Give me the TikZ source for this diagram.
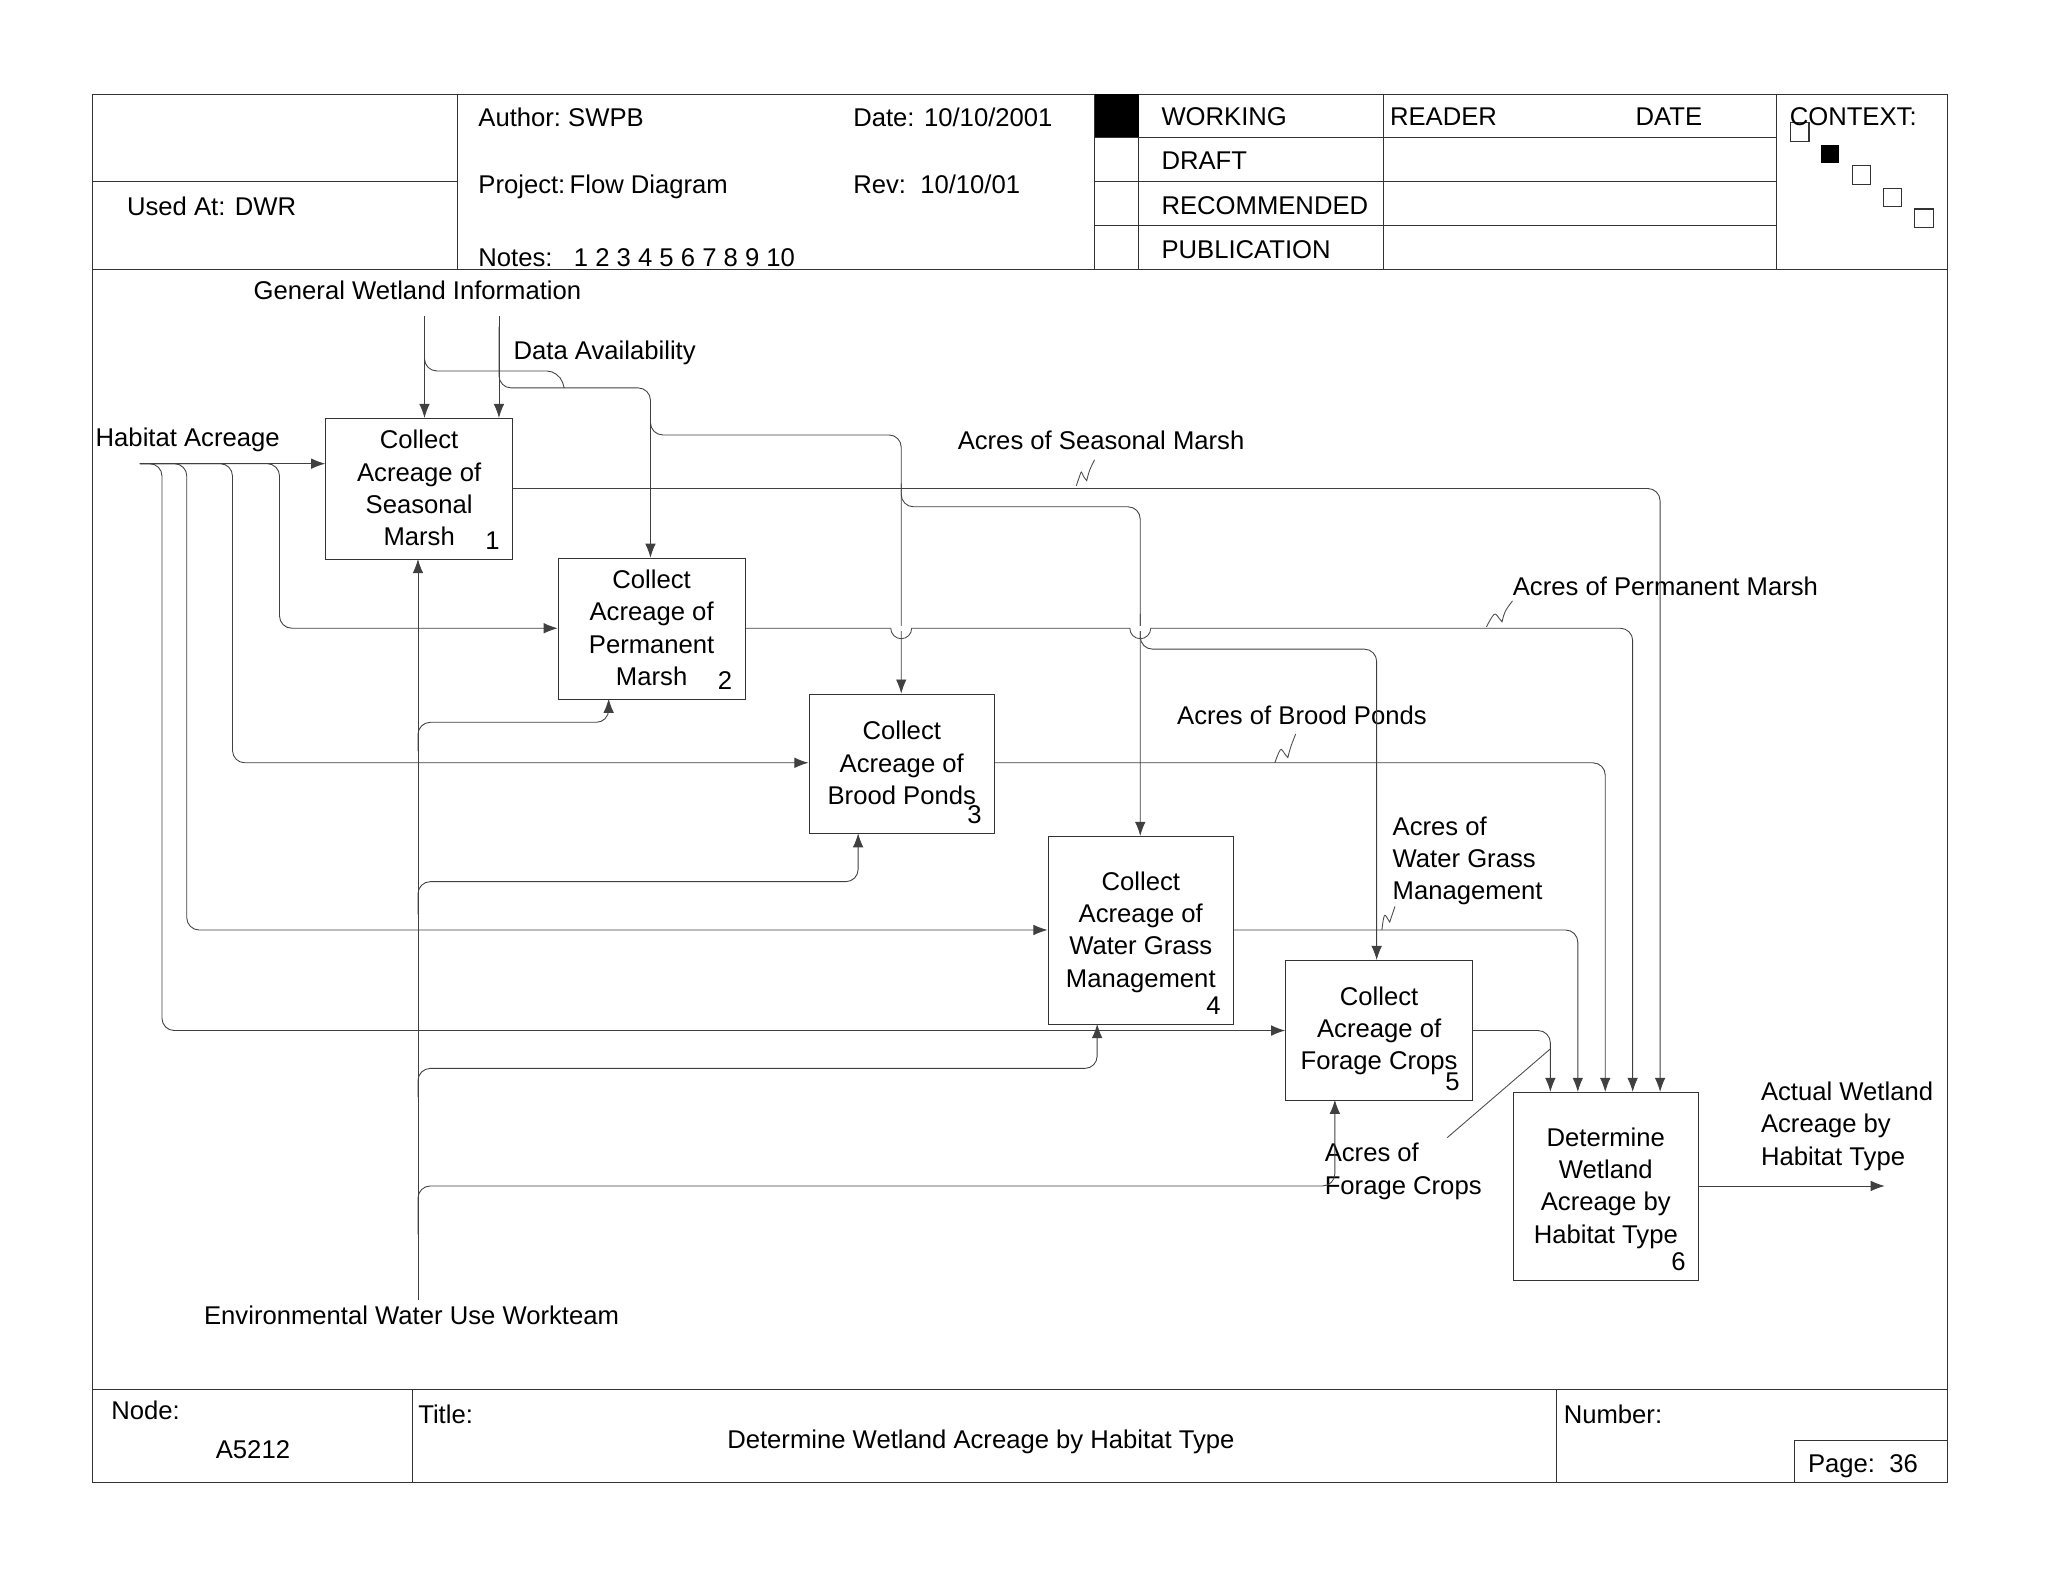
\documentclass[tikz,border=0pt]{standalone}
\usepackage{fontspec}
\setmainfont{Liberation Sans}
\usetikzlibrary{arrows.meta,calc}
\begin{document}
\begin{tikzpicture}[x=0.026122cm,y=-0.026122cm,
  every node/.style={font=\fontsize{14.6}{18.4}\selectfont,inner sep=0pt},
  frm/.style={draw=black!80,line width=0.6pt},
  box/.style={draw=black!80,line width=0.6pt,inner sep=0pt},
  cn/.style={draw=black!75,line width=0.5pt,rounded corners=7},
  ar/.style={cn,-{Latex[length=8pt,width=6pt]}},
  lt/.style={anchor=base west},
  sq/.style={draw=black!70,line width=0.5pt}]
\useasboundingbox (0,0) rectangle (1568,1211);
% frame
\draw[frm] (71,72) rectangle (1491,1135);
\draw[frm] (71,206) -- (1491,206);
\draw[frm] (71,1064) -- (1491,1064);
\draw[frm] (350,72) -- (350,206);
\draw[frm] (71,139) -- (350,139);
\draw[frm] (838,72) -- (838,206);
\draw[frm] (872,72) -- (872,206);
\draw[frm] (1059,72) -- (1059,206);
\draw[frm] (1360,72) -- (1360,206);
\foreach \y in {105,139,173} \draw[frm] (838,\y) -- (1360,\y);
\fill (838,72) rectangle (872,105);
\draw[frm] (1371,94) rectangle +(14,14);
\fill (1394,111) rectangle +(14,14);
\draw[frm] (1418,127) rectangle +(14,14);
\draw[frm] (1442,144) rectangle +(14,14);
\draw[frm] (1466,160) rectangle +(14,14);
\node[lt] (au) at (366,97) {Author:\ SWPB};
\node[lt] (da) at (653,97) {Date: 10/10/2001};
\node[lt] (pr) at (366,148) {Project:\,Flow Diagram};
\node[lt] (rv) at (653,148) {Rev:\ \ 10/10/01};
\node[lt] (no) at (366,204) {Notes:\ \ \ 1 2 3 4 5 6 7 8 9 10};
\node[lt] (ua) at (97,165) {Used At: DWR};
\node[lt] (w1) at (889,96) {WORKING};
\node[lt] (w2) at (889,130) {DRAFT};
\node[lt] (w3) at (889,164) {RECOMMENDED};
\node[lt] (w4) at (889,198) {PUBLICATION};
\node[lt] (rd) at (1064,96) {READER};
\node[lt] (dt) at (1252,96) {DATE};
\node[lt] (cx) at (1370,96) {CONTEXT:};
% footer
\draw[frm] (316,1064) -- (316,1135);
\draw[frm] (1192,1064) -- (1192,1135);
\draw[frm] (1374,1135) -- (1374,1103) -- (1491,1103);
\node[lt] (nd) at (85,1087) {Node:};
\node[lt] (nv) at (165,1117) {A5212};
\node[lt] (ti) at (320,1090) {Title:};
\node[anchor=base] (tv) at (751,1109) {Determine Wetland Acreage by Habitat Type};
\node[lt] (nu) at (1197,1090) {Number:};
\node[lt] (pg) at (1384,1127) {Page:\ \ 36};
% boxes
\newcommand\bx[8]{%
 \node[box,minimum width=#4*0.026122cm,minimum height=#5*0.026122cm,anchor=north west] (#1) at (#2,#3) {};
 \node[align=center,anchor=north] at ($(#1.north)+(0,#7)$) {#6};
 \node[anchor=base east] at ($(#1.south east)+(-10,-8)$) {#8};}
\bx{b1}{249}{320}{143}{108}{Collect\\Acreage of\\Seasonal\\Marsh}{9}{1}
\bx{b2}{427}{427}{143}{108}{Collect\\Acreage of\\Permanent\\Marsh}{9}{2}
\bx{b3}{619}{531}{142}{107}{Collect\\Acreage of\\Brood Ponds}{21}{3}
\bx{b4}{802}{640}{142}{144}{Collect\\Acreage of\\Water Grass\\Management}{27}{4}
\bx{b5}{984}{735}{143}{107}{Collect\\Acreage of\\Forage Crops}{20}{5}
\bx{b6}{1158}{836}{142}{144}{Determine\\Wetland\\Acreage by\\Habitat Type}{27}{6}
% labels
\node[lt] (l1) at (194,229) {General Wetland Information};
\node[lt] (l2) at (393,275) {Data Availability};
\node[lt] (l3) at (73,342) {Habitat Acreage};
\node[lt] (l4) at (733,344) {Acres of Seasonal Marsh};
\node[lt] (l5) at (1158,456) {Acres of Permanent Marsh};
\node[lt] (l6) at (901,555) {Acres of Brood Ponds};
\node[anchor=north west,align=left] (l7) at (1066,625) {Acres of\\Water Grass\\Management};
\node[anchor=north west,align=left] (l8) at (1014,875) {Acres of\\Forage Crops};
\node[anchor=north west,align=left] (l9) at (1348,828) {Actual Wetland\\Acreage by\\Habitat Type};
\node[lt] (l10) at (156,1014) {Environmental Water Use Workteam};
% inputs
\coordinate (hs) at (107,355);
\draw[ar] (hs) -- (b1.west|-hs);
\draw[ar] (hs) -| (214,481) -- (b2.west|-0,481);
\draw[ar] (hs) -| (178,584) -- (b3.west|-0,584);
\draw[ar] (hs) -| (143,712) -- (b4.west|-0,712);
\draw[ar] (hs) -| (124,789) -- (b5.west|-0,789);
% controls
\draw[ar] (325,242) -- (325,320);
\draw[ar] (382,242) -- (382,320);
\draw[cn] (325,250) |- (428,284) -- (432,297);
\draw[ar] (382,250) |- (498,297) -- (498,427);
\draw[ar] (498,320) |- (690,333) -- (690,531);
\draw[ar] (690,370) |- (873,388) -- (873,640);
\draw[ar] (873,470) |- (1054,497) -- (1054,735);
\draw[draw=white,line width=3pt] (682,481) -- (698,481);
\draw[draw=white,line width=3pt] (865,481) -- (881,481);
\draw[sq] (682,481) arc (180:0:8);
\draw[sq] (865,481) arc (180:0:8);
% outputs
\draw[ar] (b1.east|-0,374) -| (1271,836);
\draw[ar] (b2.east|-0,481) -- (682,481) (698,481) -- (865,481) (881,481) -| (1250,836);
\draw[ar] (b3.east|-0,584) -| (1229,836);
\draw[ar] (b4.east|-0,712) -| (1208,836);
\draw[ar] (b5.east|-0,789) -| (1187,836);
\draw[ar] (b6.east|-0,908) -- (1443,908);
% squiggles
\draw[sq] (824,372) .. controls (830,355) and (826,362) .. (832,368) .. controls (834,360) .. (838,352);
\draw[sq] (1138,480) .. controls (1146,465) and (1144,470) .. (1150,476) .. controls (1152,468) .. (1158,460);
\draw[sq] (976,584) .. controls (982,568) and (980,574) .. (986,580) .. controls (988,572) .. (992,562);
\draw[sq] (1058,712) .. controls (1060,696) and (1060,700) .. (1064,706) .. controls (1066,700) .. (1068,694);
\draw[sq] (1108,871) -- (1187,803);
% mechanisms
\draw[ar] (320,995) -- (320,428);
\draw[ar] (320,575) |- (466,553) -- (466,535);
\draw[ar] (320,700) |- (657,675) -- (657,638);
\draw[ar] (320,840) |- (840,818) -- (840,784);
\draw[ar] (320,945) |- (1022,908) -- (1022,842);
\end{tikzpicture}
\end{document}
